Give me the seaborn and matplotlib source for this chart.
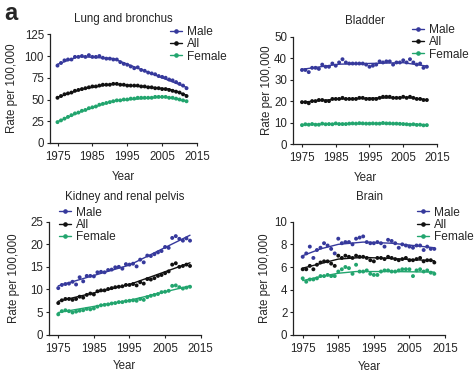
import matplotlib
matplotlib.use("Agg")
import matplotlib.pyplot as plt
from matplotlib.lines import Line2D
import seaborn as sns
import pandas as pd

years = list(range(1975, 2013))

lung_male = [89, 92, 95, 96, 96, 99, 99, 100, 99, 101, 99, 99, 100, 98, 97, 97, 96, 96, 93, 91,
             90, 88, 86, 87, 84, 83, 81, 80, 79, 77, 76, 75, 73, 72, 70, 68, 66, 63]
lung_all = [52, 54, 56, 57, 58, 60, 61, 62, 63, 64, 65, 65, 66, 67, 67, 67, 68, 68, 67, 67,
            66, 66, 66, 66, 65, 65, 64, 64, 63, 63, 62, 62, 61, 60, 59, 58, 56, 54]
lung_female = [24, 26, 28, 30, 32, 34, 35, 37, 38, 40, 41, 42, 44, 45, 46, 47, 48, 49, 49, 50,
               50, 51, 51, 52, 52, 52, 52, 52, 53, 53, 53, 53, 52, 52, 51, 50, 49, 48]

bladder_male = [34.5, 34.5, 33.5, 35.5, 35.5, 35, 37, 36, 36, 37.5, 36.5, 38, 39.5, 38, 37.5, 37.5,
                37.5, 37.5, 37.5, 37, 36, 36.5, 37, 38.5, 38, 38.5, 38.5, 37, 38, 38, 39, 38,
                39.5, 38, 37, 37.5, 35.5, 36]
bladder_all = [19.5, 19.5, 19, 20, 20, 20.5, 20.5, 20, 20, 21, 21, 21, 21.5, 21, 21, 21, 21, 21.5,
               21.5, 21, 21, 21, 21, 21.5, 22, 22, 22, 21.5, 21.5, 21.5, 22, 21.5, 22, 21.5, 21,
               21, 20.5, 20.5]
bladder_female = [8.8, 9.2, 9.0, 9.3, 9.0, 9.0, 9.5, 9.2, 9.3, 9.2, 9.6, 9.3, 9.3, 9.3, 9.5, 9.6,
                  9.5, 9.7, 9.6, 9.5, 9.5, 9.6, 9.5, 9.5, 9.8, 9.6, 9.6, 9.5, 9.5, 9.4, 9.3, 9.2,
                  9.0, 9.2, 8.9, 9.0, 8.7, 8.8]

kidney_male = [10.3, 11, 11.2, 11.3, 11.7, 11.1, 12.7, 11.8, 13, 13, 12.9, 13.8, 13.9, 13.8, 14.3,
               14.4, 14.9, 15, 14.6, 15.6, 15.5, 15.7, 15.1, 16.6, 16, 17.5, 17.4, 17.8, 18.2,
               18.5, 19.4, 19.2, 21.4, 21.8, 21.2, 20.8, 21.3, 20.8]
kidney_all = [7, 7.6, 7.9, 7.9, 7.7, 7.9, 8.4, 8.2, 8.8, 9.1, 8.9, 9.6, 9.8, 9.8, 10.1, 10.3, 10.5,
              10.6, 10.7, 11, 11, 11.2, 10.9, 11.6, 11.3, 12.3, 12.2, 12.5, 13, 13.2, 13.6, 14,
              15.5, 15.8, 15, 15.2, 15.5, 15.2]
kidney_female = [4.5, 5.2, 5.4, 5.2, 4.9, 5.1, 5.3, 5.4, 5.7, 5.6, 5.8, 6.2, 6.5, 6.6, 6.7, 6.9, 7,
                 7.2, 7.2, 7.4, 7.5, 7.6, 7.5, 7.9, 7.7, 8.3, 8.6, 8.8, 9, 9.4, 9.5, 9.7, 10.8,
                 10.9, 10.5, 10.2, 10.4, 10.6]

brain_male = [6.9, 7.2, 7.8, 6.8, 7.5, 7.7, 8.1, 7.9, 7.6, 7.2, 8.5, 8.1, 8.2, 8.2, 8.0, 8.5, 8.6,
              8.7, 8.2, 8.1, 8.1, 8.2, 8.1, 7.8, 8.4, 8.3, 8.1, 7.7, 8.0, 7.9, 7.8, 7.7, 7.9, 7.9,
              7.5, 7.8, 7.6, 7.6]
brain_all = [5.8, 5.8, 6.1, 5.8, 6.2, 6.4, 6.5, 6.5, 6.3, 6.1, 7.0, 6.8, 7.0, 6.9, 6.8, 7.0, 6.9,
             6.9, 6.8, 6.6, 6.5, 6.8, 6.8, 6.7, 6.9, 6.8, 6.7, 6.6, 6.7, 6.8, 6.6, 6.6, 6.7, 6.8,
             6.5, 6.6, 6.6, 6.4]
brain_female = [5.0, 4.7, 4.9, 4.9, 5.0, 5.2, 5.2, 5.3, 5.2, 5.2, 5.6, 5.8, 6.0, 5.9, 5.4, 6.2,
                5.6, 5.6, 5.7, 5.4, 5.3, 5.3, 5.6, 5.7, 5.7, 5.6, 5.6, 5.7, 5.8, 5.8, 5.8, 5.2,
                5.7, 5.8, 5.6, 5.7, 5.5, 5.4]

# fitted trend lines (joinpoints)
lung_male_fit_x = [1975, 1981, 1991, 2012]
lung_male_fit_y = [90.5, 99.5, 97, 64]
lung_all_fit_x = [1975, 1982, 1991, 2007, 2012]
lung_all_fit_y = [52.5, 62, 68, 62, 55]
lung_female_fit_x = [1975, 1982, 1991, 2006, 2012]
lung_female_fit_y = [24.5, 36.5, 48.5, 53, 48]

bladder_male_fit_x = [1975, 1986, 2005, 2012]
bladder_male_fit_y = [34.8, 37.2, 37.9, 36.3]
bladder_all_fit_x = [1975, 1986, 2006, 2012]
bladder_all_fit_y = [19.5, 21.0, 21.7, 20.6]
bladder_female_fit_x = [1975, 1990, 2005, 2012]
bladder_female_fit_y = [9.0, 9.5, 9.5, 8.8]

kidney_male_fit_x = [1975, 1995, 2012]
kidney_male_fit_y = [10.8, 15.4, 22.0]
kidney_all_fit_x = [1975, 1995, 2012]
kidney_all_fit_y = [7.4, 11.1, 15.9]
kidney_female_fit_x = [1975, 1995, 2012]
kidney_female_fit_y = [4.9, 7.6, 10.8]

brain_male_fit_x = [1975, 1980, 1985, 1992, 2000, 2012]
brain_male_fit_y = [7.0, 7.6, 8.0, 8.2, 8.1, 7.7]
brain_all_fit_x = [1975, 1980, 1985, 1992, 2000, 2012]
brain_all_fit_y = [5.9, 6.3, 6.7, 6.85, 6.75, 6.55]
brain_female_fit_x = [1975, 1980, 1985, 1990, 2000, 2012]
brain_female_fit_y = [4.8, 5.15, 5.45, 5.6, 5.6, 5.55]

series_names = ["Male", "All", "Female"]
colors = {"Male": "#36399c", "All": "#111111", "Female": "#22a56e"}

sns.set_style("ticks")
plt.rcParams["font.family"] = ["Liberation Sans", "DejaVu Sans"]
FS = 8.3

fig = plt.figure(figsize=(4.74, 3.78), dpi=100)

panels = [
    dict(title="Lung and bronchus", rect=[0.1055, 0.6217, 0.3101, 0.2876], xlim=(1972.85, 2015),
         ylim=(0, 125), yticks=[0, 25, 50, 75, 100, 125],
         pts=[lung_male, lung_all, lung_female],
         fits=[(lung_male_fit_x, lung_male_fit_y), (lung_all_fit_x, lung_all_fit_y),
               (lung_female_fit_x, lung_female_fit_y)],
         leg=(0.816, 1.075), tpad=8.8, ylx=-0.215, xlp=6),
    dict(title="Bladder", rect=[0.6181, 0.619, 0.3038, 0.2839], xlim=(1972.33, 2015),
         ylim=(0, 50), yticks=[0, 10, 20, 30, 40, 50],
         pts=[bladder_male, bladder_all, bladder_female],
         fits=[(bladder_male_fit_x, bladder_male_fit_y), (bladder_all_fit_x, bladder_all_fit_y),
               (bladder_female_fit_x, bladder_female_fit_y)],
         leg=(0.826, 1.117), tpad=9.5, ylx=-0.142, xlp=6),
    dict(title="Kidney and renal pelvis", rect=[0.1034, 0.1146, 0.32, 0.299], xlim=(1972.4, 2015),
         ylim=(0, 25), yticks=[0, 5, 10, 15, 20, 25],
         pts=[kidney_male, kidney_all, kidney_female],
         fits=[(kidney_male_fit_x, kidney_male_fit_y), (kidney_all_fit_x, kidney_all_fit_y),
               (kidney_female_fit_x, kidney_female_fit_y)],
         leg=(0.066, 1.133), tpad=15.4, ylx=-0.19, xlp=4),
    dict(title="Brain", rect=[0.6188, 0.1138, 0.32, 0.2997], xlim=(1972.36, 2015),
         ylim=(0, 10), yticks=[0, 2, 4, 6, 8, 10],
         pts=[brain_male, brain_all, brain_female],
         fits=[(brain_male_fit_x, brain_male_fit_y), (brain_all_fit_x, brain_all_fit_y),
               (brain_female_fit_x, brain_female_fit_y)],
         leg=(0.815, 1.133), tpad=15.4, ylx=-0.144, xlp=4),
]

for p in panels:
    ax = fig.add_axes(p["rect"])
    for name, vals, (fx, fy) in zip(series_names, p["pts"], p["fits"]):
        df = pd.DataFrame({"Year": years, "Rate": vals})
        sns.scatterplot(data=df, x="Year", y="Rate", ax=ax, color=colors[name], s=8,
                        marker="o", edgecolor="none", legend=False, zorder=3)
        fdf = pd.DataFrame({"Year": fx, "Rate": fy})
        sns.lineplot(data=fdf, x="Year", y="Rate", ax=ax, color=colors[name], lw=1.0,
                     legend=False, zorder=2)
    ax.set_xlim(*p["xlim"])
    ax.set_ylim(*p["ylim"])
    ax.set_xticks([1975, 1985, 1995, 2005, 2015])
    ax.set_yticks(p["yticks"])
    ax.tick_params(labelsize=FS, length=2.5, width=0.8, color="#222222")
    ax.tick_params(axis="x", pad=3.3)
    ax.tick_params(axis="y", pad=1.8)
    for s in ["left", "bottom"]:
        ax.spines[s].set_linewidth(0.9)
        ax.spines[s].set_color("#222222")
    sns.despine(ax=ax)
    ax.set_xlabel("Year", fontsize=FS, labelpad=p["xlp"])
    ax.set_ylabel("Rate per 100,000", fontsize=FS)
    ax.yaxis.set_label_coords(p["ylx"], 0.5)
    ax.set_title(p["title"], fontsize=FS, pad=p["tpad"])
    handles = [Line2D([], [], color=colors[n], marker="o", markersize=2.3, lw=1.0) for n in series_names]
    ax.legend(handles, series_names, loc="upper left", bbox_to_anchor=p["leg"], frameon=False,
              fontsize=FS + 0.3, handlelength=1.0, handletextpad=0.4, labelspacing=0.02,
              borderpad=0, borderaxespad=0)

fig.text(0.008, 0.995, "a", fontsize=17, fontweight="bold", va="top", ha="left")

fig.savefig("out.png", dpi=100)
